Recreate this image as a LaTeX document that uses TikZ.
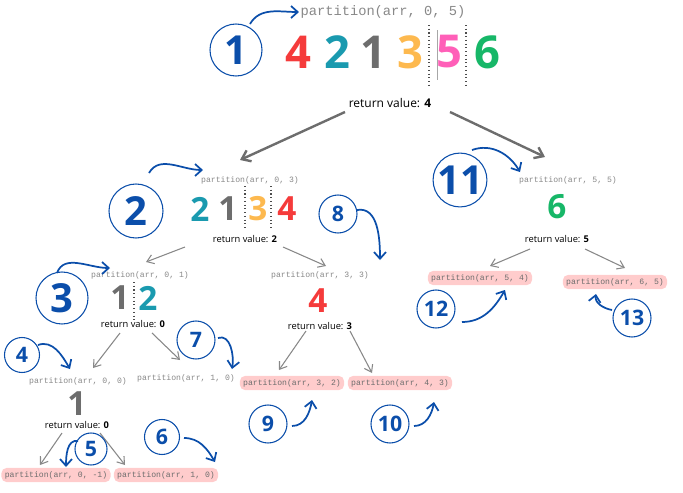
\documentclass[tikz,border=0pt]{standalone}
\usepackage{fontspec}
\setmainfont{Open Sans}
\newfontfamily\monof{Liberation Mono}
\usetikzlibrary{arrows.meta}
\definecolor{cR}{HTML}{F53B3B}\definecolor{cT}{HTML}{1A9AAF}\definecolor{cG}{HTML}{6D6D6D}
\definecolor{cO}{HTML}{FDB94F}\definecolor{cP}{HTML}{FF5FB8}\definecolor{cN}{HTML}{17B768}
\definecolor{cB}{HTML}{0B4EAA}\definecolor{cK}{HTML}{FFCCCC}\definecolor{cL}{HTML}{888888}
\tikzset{
 num/.style={circle,draw=cB,thick,text=cB,font=\bfseries,inner sep=0pt},
 bignum/.style={num,minimum size=52*0.75pt,font=\fontsize{30}{30}\selectfont\bfseries},
 midnum/.style={num,minimum size=54*0.75pt,font=\fontsize{30}{30}\selectfont\bfseries},
 smnum/.style={num,minimum size=35*0.75pt,font=\fontsize{16}{16}\selectfont\bfseries},
 callA/.style={font=\monof\fontsize{10.3}{11}\selectfont,text=cL,inner sep=1pt},
 callB/.style={font=\monof\fontsize{6.1}{7}\selectfont,text=cL,inner sep=1pt},
 callP/.style={callB,fill=cK,rounded corners=4pt,inner sep=2.5pt,text=cG},
 dg/.style={font=\fontsize{34}{34}\selectfont\bfseries,inner sep=0pt},
 dm/.style={font=\fontsize{25}{25}\selectfont\bfseries,inner sep=0pt},
 ret/.style={font=\fontsize{9}{10}\selectfont,inner sep=1pt},
 rets/.style={font=\fontsize{7}{8}\selectfont,inner sep=1pt},
 bA/.style={-{Straight Barb[length=5pt,width=9pt]},draw=cB,line width=1.3pt},
 gA/.style={-{Straight Barb[length=6pt,width=9pt]},draw=cG,line width=1.8pt},
 gS/.style={-{Straight Barb[length=5pt,width=7pt]},draw=cL,line width=0.8pt},
 dots/.style={draw=cG!70!black,dotted,thick},
}
\begin{document}
\begin{tikzpicture}[x=0.75pt,y=-0.75pt]
\useasboundingbox (0,0) rectangle (683,493);
% level 1
\node[bignum] (n1) at (236,50) {1};
\node[callA] (c1) at (383,12) {partition(arr, 0, 5)};
\foreach \d/\c/\x in {4/cR/298,2/cT/337,1/cG/373,3/cO/410,5/cP/449,6/cN/487}
  \node[dg,text=\c] at (\x,52) {\d};
\draw[dots] (429,25)--(429,88); \draw[dots] (466,25)--(466,88);
\draw[cG!60] (437,30)--(437,80);
\node[ret] (r1) at (390,103) {return value: \textbf{4}};
\draw[bA] (250,24) to[out=60,in=180] (c1.west);
\coordinate (a1) at (345,112); \coordinate (a1e) at (240,160);
\coordinate (b1) at (450,112); \coordinate (b1e) at (545,157);
\draw[gA] (a1)--(a1e); \draw[gA] (b1)--(b1e);
% level 2 left
\node[midnum] (n2) at (136,211) {2};
\node[callB] (c2) at (250,180) {partition(arr, 0, 3)};
\foreach \d/\c/\x in {2/cT/200,1/cG/228,3/cO/258,4/cR/287}
  \node[dm,text=\c] at (\x,209) {\d};
\draw[dots] (245,186)--(245,230); \draw[dots] (271,186)--(271,230);
\node[rets] (r2) at (245,239) {return value: \textbf{2}};
\draw[bA] (149,173) to[out=60,in=180] (203,170);
% level 2 right
\node[bignum] (n11) at (460,180) {11};
\node[callB] (c11) at (568,180) {partition(arr, 5, 5)};
\node[dm,text=cN] at (557,207) {6};
\node[rets] (r11) at (557,239) {return value: \textbf{5}};
\draw[bA] (472,150) to[out=20,in=120] (520,172);
\node[smnum,minimum size=38*0.75pt] (n8) at (338,214) {8};
\draw[bA] (357,210) to[out=10,in=90] (380,260);
\draw[gS] (185,247)--(146,262); \draw[gS] (283,247)--(326,266);
\draw[gS] (530,249)--(490,266); \draw[gS] (585,249)--(625,268);
\node[callP] (c12) at (480,278) {partition(arr, 5, 4)};
\node[callP] (c13) at (615,282) {partition(arr, 6, 5)};
\node[smnum,minimum size=38*0.75pt] (n12) at (436,309) {12};
\node[smnum,minimum size=38*0.75pt] (n13) at (632,318) {13};
\draw[bA] (462,322) to[out=0,in=-120] (505,290);
\draw[bA] (612,310) to[out=170,in=-100] (596,294);
% level 3
\node[midnum,minimum size=52*0.75pt] (n3) at (62,298) {3};
\node[callB] (c3) at (140,275) {partition(arr, 0, 1)};
\node[dm,text=cG] at (120,298) {1}; \node[dm,text=cT] at (148,298) {2};
\draw[dots] (134,282)--(134,320);
\node[rets] (r3) at (133,324) {return value: \textbf{0}};
\draw[bA] (57,273) to[out=70,in=180] (110,268);
\node[callB] (c8) at (320,275) {partition(arr, 3, 3)};
\node[dm,text=cR] at (318,301) {4};
\node[rets] (r8) at (320,326) {return value: \textbf{3}};
\draw[gS] (120,333)--(93,368); \draw[gS] (152,333)--(180,360);
\draw[gS] (306,331)--(279,370); \draw[gS] (350,331)--(372,373);
\node[smnum] (n4) at (22,355) {4};
\draw[bA] (38,345) to[out=20,in=120] (70,369);
\node[smnum,minimum size=38*0.75pt] (n7) at (196,340) {7};
\draw[bA] (218,338) to[out=20,in=80] (232,369);
\node[callB] (c4) at (78,381) {partition(arr, 0, 0)};
\node[callB] (c7) at (186,378) {partition(arr, 1, 0)};
\node[dm,text=cG] at (77,404) {1};
\node[rets] (r4) at (77,425) {return value: \textbf{0}};
\node[callP] (c9) at (292,383) {partition(arr, 3, 2)};
\node[callP] (c10) at (400,383) {partition(arr, 4, 3)};
\node[smnum,minimum size=38*0.75pt] (n9) at (268,424) {9};
\node[smnum,minimum size=38*0.75pt] (n10) at (390,424) {10};
\draw[bA] (292,426) to[out=0,in=-100] (312,400);
\draw[bA] (414,426) to[out=0,in=-100] (434,402);
% level 4
\draw[gS] (62,433)--(40,465); \draw[gS] (100,433)--(125,465);
\node[smnum,minimum size=32*0.75pt] (n5) at (91,449) {5};
\draw[bA] (78,441) to[out=170,in=90] (66,467);
\node[smnum] (n6) at (162,437) {6};
\draw[bA] (184,438) to[out=0,in=120] (215,462);
\node[callP] (c5) at (56,475) {partition(arr, 0, -1)};
\node[callP] (c6) at (166,475) {partition(arr, 1, 0)};
\end{tikzpicture}
\end{document}
